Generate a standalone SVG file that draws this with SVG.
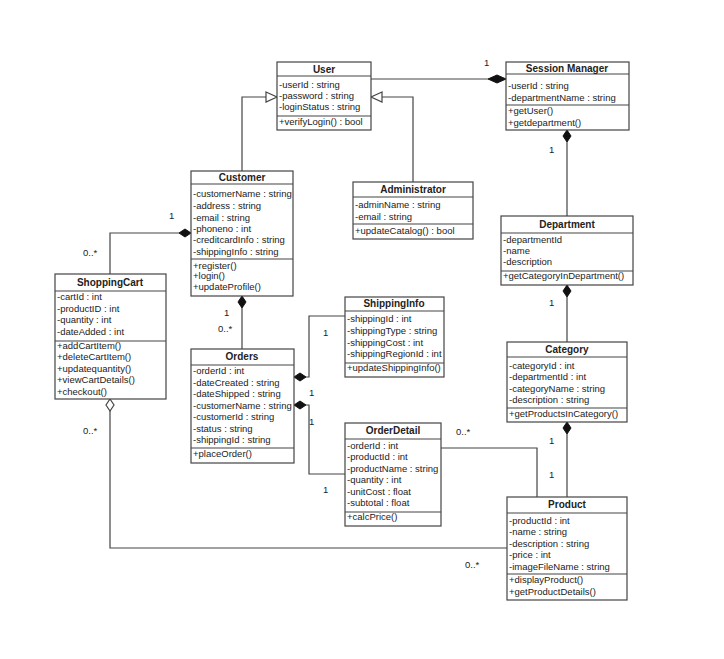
<svg xmlns="http://www.w3.org/2000/svg" width="724" height="659" viewBox="0 0 724 659">
<style>
text{font-family:"Liberation Sans",Arial,sans-serif;font-size:9.5px;fill:#222}
.t{font-weight:bold;text-anchor:middle;font-size:10px}
.b{fill:#fff;stroke:#444;stroke-width:1.2}
.d{stroke:#444;stroke-width:1.2}
.c{fill:none;stroke:#444;stroke-width:1.2}
.fd{fill:#111;stroke:#111}
.hd{fill:#fff;stroke:#444;stroke-width:1.2}
</style>
<rect width="724" height="659" fill="#fff"/>
<g id="connectors">
<path class="c" d="M371 79H488"/><path class="fd" d="M488 79l9-4 9 4-9 4z"/>
<path class="c" d="M242 171V97H266"/><path class="hd" d="M266 92L277 97L266 102z"/>
<path class="c" d="M413 182V97H382"/><path class="hd" d="M382 92L371 97L382 102z"/>
<path class="c" d="M567 142V216"/><path class="fd" d="M567 130l4 6-4 6-4-6z"/>
<path class="c" d="M567 297V342"/><path class="fd" d="M567 285l4 6-4 6-4-6z"/>
<path class="c" d="M567 434V497"/><path class="fd" d="M567 422l4 6-4 6-4-6z"/>
<path class="c" d="M179 233H110V274"/><path class="fd" d="M191 233l-6 4-6-4 6-4z"/>
<path class="c" d="M242 308V349"/><path class="fd" d="M242 296l4 6-4 6-4-6z"/>
<path class="c" d="M306 377H309V316H345"/><path class="fd" d="M294 377l6-4 6 4-6 4z"/>
<path class="c" d="M306 405H309V474H345"/><path class="fd" d="M294 405l6-4 6 4-6 4z"/>
<path class="c" d="M441 448H537V497"/>
<path class="c" d="M110 411V548H507"/><path class="hd" d="M110 399l4 6-4 6-4-6z"/>
<text x="484" y="66">1</text>
<text x="549" y="153">1</text>
<text x="549" y="306">1</text>
<text x="549" y="444">1</text>
<text x="549" y="478">1</text>
<text x="169" y="219">1</text>
<text x="83" y="256">0..*</text>
<text x="224" y="316">1</text>
<text x="218" y="332">0..*</text>
<text x="323" y="336">1</text>
<text x="309" y="396">1</text>
<text x="309" y="425">1</text>
<text x="323" y="493">1</text>
<text x="83" y="434">0..*</text>
<text x="456" y="435">0..*</text>
<text x="465" y="568">0..*</text>
</g>
<g id="User"><rect class="b" x="277" y="62" width="94" height="68"/><path class="d" d="M277 76H371M277 116H371"/>
<text class="t" x="324" y="73">User</text><text x="279" y="88">-userId : string</text><text x="279" y="99">-password : string</text><text x="279" y="110">-loginStatus : string</text><text x="279" y="125">+verifyLogin() : bool</text></g>
<g id="SessionManager"><rect class="b" x="506" y="62" width="123" height="68"/><path class="d" d="M506 74H629M506 105H629"/>
<text class="t" x="567" y="72">Session Manager</text><text x="508" y="89">-userId : string</text><text x="508" y="101">-departmentName : string</text><text x="508" y="114">+getUser()</text><text x="508" y="126">+getdepartment()</text></g>
<g id="Customer"><rect class="b" x="191" y="171" width="102" height="125"/><path class="d" d="M191 184H293M191 259H293"/>
<text class="t" x="242" y="181">Customer</text><text x="193" y="197">-customerName : string</text><text x="193" y="209">-address : string</text><text x="193" y="221">-email : string</text><text x="193" y="232">-phoneno : int</text><text x="193" y="243">-creditcardInfo : string</text><text x="193" y="255">-shippingInfo : string</text><text x="193" y="269">+register()</text><text x="193" y="279">+login()</text><text x="193" y="290">+updateProfile()</text></g>
<g id="Administrator"><rect class="b" x="353" y="182" width="120" height="57"/><path class="d" d="M353 197H473M353 224H473"/>
<text class="t" x="413" y="193">Administrator</text><text x="355" y="208">-adminName : string</text><text x="355" y="220">-email : string</text><text x="355" y="234">+updateCatalog() : bool</text></g>
<g id="Department"><rect class="b" x="501" y="216" width="132" height="69"/><path class="d" d="M501 233H633M501 271H633"/>
<text class="t" x="567" y="228">Department</text><text x="503" y="243">-departmentId</text><text x="503" y="254">-name</text><text x="503" y="265">-description</text><text x="503" y="279">+getCategoryInDepartment()</text></g>
<g id="ShoppingCart"><rect class="b" x="55" y="274" width="111" height="125"/><path class="d" d="M55 291H166M55 341H166"/>
<text class="t" x="110" y="286">ShoppingCart</text><text x="57" y="300">-cartId : int</text><text x="57" y="312">-productID : int</text><text x="57" y="323">-quantity : int</text><text x="57" y="335">-dateAdded : int</text><text x="57" y="349">+addCartItem()</text><text x="57" y="360">+deleteCartItem()</text><text x="57" y="372">+updatequantity()</text><text x="57" y="383">+viewCartDetails()</text><text x="57" y="395">+checkout()</text></g>
<g id="Orders"><rect class="b" x="191" y="349" width="103" height="114"/><path class="d" d="M191 365H294M191 448H294"/>
<text class="t" x="242" y="360">Orders</text><text x="193" y="374">-orderId : int</text><text x="193" y="386">-dateCreated : string</text><text x="193" y="397">-dateShipped : string</text><text x="193" y="409">-customerName : string</text><text x="193" y="420">-customerId : string</text><text x="193" y="432">-status : string</text><text x="193" y="443">-shippingId : string</text><text x="193" y="457">+placeOrder()</text></g>
<g id="ShippingInfo"><rect class="b" x="345" y="297" width="99" height="80"/><path class="d" d="M345 311H444M345 363H444"/>
<text class="t" x="394" y="307">ShippingInfo</text><text x="347" y="322">-shippingId : int</text><text x="347" y="334">-shippingType : string</text><text x="347" y="346">-shippingCost : int</text><text x="347" y="357">-shippingRegionId : int</text><text x="347" y="371">+updateShippingInfo()</text></g>
<g id="OrderDetail"><rect class="b" x="345" y="423" width="96" height="103"/><path class="d" d="M345 439H441M345 512H441"/>
<text class="t" x="393" y="434">OrderDetail</text><text x="347" y="449">-orderId : int</text><text x="347" y="460">-productId : int</text><text x="347" y="472">-productName : string</text><text x="347" y="483">-quantity : int</text><text x="347" y="495">-unitCost : float</text><text x="347" y="506">-subtotal : float</text><text x="347" y="520">+calcPrice()</text></g>
<g id="Category"><rect class="b" x="507" y="342" width="120" height="80"/><path class="d" d="M507 357H627M507 408H627"/>
<text class="t" x="567" y="353">Category</text><text x="509" y="369">-categoryId : int</text><text x="509" y="380">-departmentId : int</text><text x="509" y="392">-categoryName : string</text><text x="509" y="403">-description : string</text><text x="509" y="417">+getProductsInCategory()</text></g>
<g id="Product"><rect class="b" x="507" y="497" width="120" height="103"/><path class="d" d="M507 513H627M507 574H627"/>
<text class="t" x="567" y="508">Product</text><text x="509" y="524">-productId : int</text><text x="509" y="535">-name : string</text><text x="509" y="547">-description : string</text><text x="509" y="558">-price : int</text><text x="509" y="570">-imageFileName : string</text><text x="509" y="583">+displayProduct()</text><text x="509" y="595">+getProductDetails()</text></g>
</svg>
